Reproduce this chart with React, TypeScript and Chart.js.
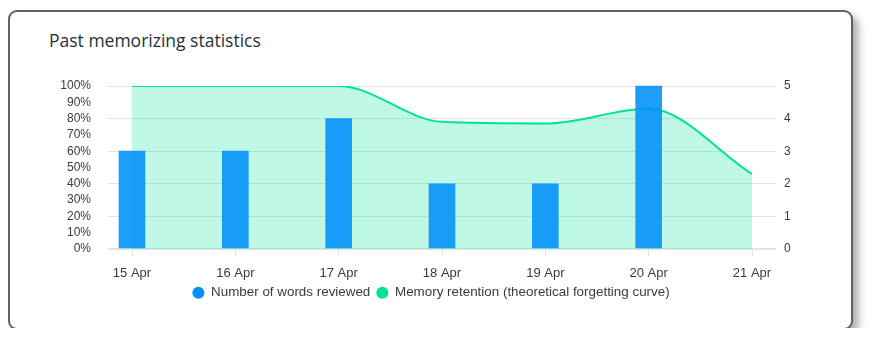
import React, { useEffect, useRef } from "react";
import { Chart, registerables } from "chart.js";

Chart.register(...registerables);

const dayLabels = ["15 Apr", "16 Apr", "17 Apr", "18 Apr", "19 Apr", "20 Apr", "21 Apr"];
const wordsReviewed = [3, 3, 4, 2, 2, 5, null];
const retentionPercent = [100, 100, 100, 78, 77, 86, 46];
const legendNames = ["Number of words reviewed", "Memory retention (theoretical forgetting curve)"];
const legendColors = ["#008FFB", "#00E396"];

const TEXT = "#373d3f";
const GRID = "#e3e3e3";
const FONT = "'Liberation Sans', Arial, sans-serif";

export default function App() {
  const canvasRef = useRef<HTMLCanvasElement | null>(null);

  useEffect(() => {
    if (!canvasRef.current) return;
    const chart = new Chart(canvasRef.current, {
      data: {
        labels: dayLabels,
        datasets: [
          {
            type: "bar",
            label: legendNames[0],
            data: wordsReviewed,
            yAxisID: "y1",
            backgroundColor: "rgba(0,143,251,0.88)",
            barThickness: 26,
            clip: false,
            order: 0,
          },
          {
            type: "line",
            label: legendNames[1],
            data: retentionPercent,
            yAxisID: "y",
            borderColor: "#00E396",
            borderWidth: 2,
            backgroundColor: "rgba(0,227,150,0.25)",
            fill: "origin",
            pointRadius: 0,
            pointHoverRadius: 0,
            cubicInterpolationMode: "monotone",
            clip: 0,
            order: 1,
          },
        ],
      },
      options: {
        animation: false,
        responsive: true,
        maintainAspectRatio: false,
        layout: { padding: { top: 26, bottom: 3.6, left: 0, right: 0 } },
        plugins: {
          tooltip: { enabled: false },
          legend: {
            position: "bottom",
            labels: {
              usePointStyle: true,
              boxWidth: 12,
              boxHeight: 8.5,
              padding: 6,
              color: TEXT,
              font: { family: FONT, size: 13.4 },
              generateLabels: () =>
                legendNames.map((name, i) => ({
                  text: name,
                  fillStyle: legendColors[i],
                  strokeStyle: legendColors[i],
                  lineWidth: 0,
                  pointStyle: "circle",
                  hidden: false,
                  datasetIndex: i,
                  fontColor: TEXT,
                })),
            },
          },
        },
        scales: {
          x: {
            type: "category",
            offset: false,
            afterFit: (s: any) => {
              s.height = 31;
            },
            grid: { offset: false, drawOnChartArea: false, drawTicks: true, tickLength: 7, color: GRID },
            border: { display: false },
            ticks: { color: TEXT, font: { family: FONT, size: 13 }, padding: 10, maxRotation: 0 },
          },
          y: {
            position: "left",
            min: 0,
            max: 100,
            afterFit: (s: any) => {
              s.width = 121;
            },
            ticks: {
              stepSize: 10,
              autoSkip: false,
              color: TEXT,
              padding: 17,
              font: { family: FONT, size: 12 },
              callback: (v: any) => v + "%",
            },
            grid: {
              drawTicks: true,
              tickLength: 24,
              color: (ctx: any) => (ctx.tick && ctx.tick.value % 20 === 0 ? GRID : "rgba(0,0,0,0)"),
              lineWidth: (ctx: any) => (ctx.tick && ctx.tick.value === 0 ? 2 : 1),
            },
            border: { display: false },
          },
          y1: {
            position: "right",
            min: 0,
            max: 5,
            afterFit: (s: any) => {
              s.width = 99;
            },
            ticks: { stepSize: 1, autoSkip: false, color: TEXT, padding: 8, font: { family: FONT, size: 12 } },
            grid: {
              drawOnChartArea: false,
              drawTicks: true,
              tickLength: 24,
              color: GRID,
              lineWidth: (ctx: any) => (ctx.tick && ctx.tick.value === 0 ? 2 : 1),
            },
            border: { display: false },
          },
        },
      },
    } as any);
    return () => chart.destroy();
  }, []);

  return (
    <div
      style={{
        position: "relative",
        top: 2,
        width: 845,
        height: 320,
        boxSizing: "border-box",
        border: "2px solid #626262",
        borderRadius: 9,
        background: "#fff",
        boxShadow: "5px 6px 9px rgba(0,0,0,0.35)",
      }}
    >
      <div
        style={{
          position: "absolute",
          left: 39,
          top: 17,
          fontFamily: "'Open Sans', sans-serif",
          fontSize: 17.5,
          lineHeight: "22px",
          color: "#263238",
          whiteSpace: "nowrap",
        }}
      >
        Past memorizing statistics
      </div>
      <div style={{ position: "absolute", left: 1, top: 48, width: 840, height: 253 }}>
        <canvas ref={canvasRef} />
      </div>
    </div>
  );
}
